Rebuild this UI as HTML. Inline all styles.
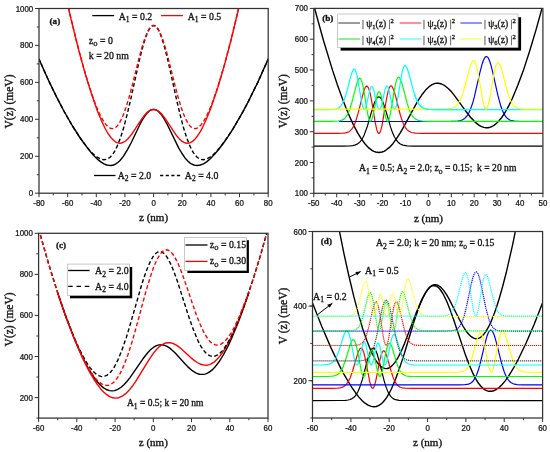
<!DOCTYPE html><html><head><meta charset="utf-8"><style>html,body{margin:0;padding:0;background:#fff}svg{display:block}</style></head><body><svg width="550" height="452" viewBox="0 0 550 452">
<rect width="550" height="452" fill="#fff"/>
<defs>
<clipPath id="ca"><rect x="39.0" y="8.5" width="229.2" height="184.7"/></clipPath>
<clipPath id="cb"><rect x="313.8" y="8.4" width="229.1" height="184.9"/></clipPath>
<clipPath id="cc"><rect x="38.6" y="233.3" width="229.4" height="184.8"/></clipPath>
<clipPath id="cd"><rect x="312.5" y="231.5" width="230.1" height="186.5"/></clipPath>
</defs>
<g clip-path="url(#ca)" fill="none" stroke-width="1.40" stroke-linejoin="round">
<path d="M39.0,59.0 L47.3,77.8 L55.6,95.1 L63.9,111.0 L72.2,125.5 L80.5,138.5 L88.3,149.1 L91.7,153.3 L95.2,157.0 L98.3,159.9 L101.5,162.4 L104.0,163.9 L106.6,165.0 L108.9,165.4 L111.2,165.5 L113.5,165.0 L115.5,164.1 L117.8,162.5 L119.8,160.7 L123.5,156.1 L127.5,149.6 L131.3,142.5 L139.8,124.7 L142.1,120.4 L144.4,116.6 L147.0,113.2 L149.3,111.0 L151.6,109.7 L153.9,109.4 L156.2,110.0 L158.5,111.5 L160.8,113.9 L163.3,117.5 L167.6,125.2 L178.8,148.1 L182.0,153.5 L184.8,157.7 L188.0,161.3 L190.8,163.6 L194.0,165.0 L195.4,165.4 L197.1,165.5 L200.3,165.0 L203.5,163.8 L206.9,161.6 L210.3,158.7 L214.3,154.6 L218.6,149.5 L223.2,143.5 L227.8,136.8 L232.7,129.3 L237.8,120.7 L242.7,112.1 L247.9,102.4 L257.9,82.1 L268.2,59.0" stroke="#000"/>
<path d="M153.6,25.5 L152.5,25.7 L151.3,26.5 L150.2,27.8 L148.7,30.0 L146.2,35.9 L143.6,43.8 L141.3,52.3 L139.0,61.7 L130.7,99.4 L127.2,114.2 L123.8,127.3 L120.4,138.2 L116.9,146.9 L115.2,150.3 L113.5,153.1 L111.8,155.4 L110.1,157.2 L108.3,158.5 L106.3,159.4 L103.7,159.7 L100.9,159.1 L98.0,157.7 L94.9,155.5 L91.4,152.2 L87.7,148.0 L83.7,142.8 L79.1,136.3 L74.2,128.8 L69.4,120.7 L64.5,112.1 L59.3,102.4 L49.3,82.1 L39.0,59.0" stroke="#000" stroke-dasharray="4 2.4" stroke-dashoffset="2"/>
<path d="M153.6,25.5 L154.7,25.7 L155.9,26.5 L157.0,27.8 L158.5,30.0 L161.0,35.9 L163.6,43.8 L165.9,52.3 L168.2,61.7 L176.5,99.4 L180.0,114.2 L183.4,127.3 L186.8,138.2 L190.3,146.9 L192.0,150.3 L193.7,153.1 L195.4,155.4 L197.1,157.2 L198.9,158.5 L200.9,159.4 L203.5,159.7 L206.3,159.1 L209.2,157.7 L212.3,155.5 L215.8,152.2 L219.5,148.0 L223.5,142.8 L228.1,136.3 L233.0,128.8 L237.8,120.7 L242.7,112.1 L247.9,102.4 L257.9,82.1 L268.2,59.0" stroke="#000" stroke-dasharray="4 2.4" stroke-dashoffset="2"/>
<path d="M39.0,-20.0 L62.2,-20.0 L70.8,18.1 L78.8,50.3 L82.8,65.1 L86.8,79.0 L90.9,92.0 L94.6,103.0 L98.0,112.4 L101.5,120.7 L104.9,128.0 L108.0,133.5 L111.2,137.9 L114.1,140.8 L115.5,141.8 L116.9,142.6 L118.4,143.0 L119.8,143.2 L121.5,143.0 L123.5,142.2 L125.5,141.0 L127.5,139.2 L129.8,136.7 L132.1,133.6 L141.3,119.6 L145.0,114.7 L147.3,112.3 L149.3,110.7 L151.3,109.7 L153.3,109.4 L155.3,109.6 L157.3,110.4 L159.3,111.8 L161.6,114.0 L165.6,119.2 L173.1,130.7 L176.2,135.2 L179.4,138.9 L182.2,141.4 L184.0,142.4 L185.7,143.0 L187.4,143.2 L188.8,143.0 L190.3,142.6 L192.0,141.6 L193.4,140.6 L195.1,138.9 L197.7,135.7 L200.3,131.6 L202.9,126.8 L205.7,120.7 L208.6,113.8 L211.5,106.2 L217.8,87.5 L224.4,65.1 L231.2,39.2 L237.8,12.0 L245.0,-20.0 L268.2,-20.0" stroke="#f00"/>
<path d="M153.6,25.5 L152.5,25.7 L151.3,26.4 L150.2,27.6 L149.0,29.2 L146.7,33.7 L144.4,39.7 L142.1,46.9 L139.8,55.2 L132.1,85.9 L129.0,97.6 L125.8,108.0 L122.7,116.5 L120.9,120.2 L119.5,122.8 L118.1,124.9 L116.6,126.6 L115.2,127.7 L113.5,128.5 L112.1,128.6 L110.3,128.2 L108.0,126.8 L105.8,124.4 L103.5,121.2 L100.9,116.5 L98.3,111.1 L95.4,104.1 L89.7,87.8 L83.4,67.0 L76.5,41.4 L69.7,13.2 L62.2,-20.0 L39.0,-20.0" stroke="#f00" stroke-dasharray="4 2.4" stroke-dashoffset="2"/>
<path d="M153.6,25.5 L154.7,25.7 L155.9,26.4 L157.0,27.6 L158.2,29.2 L160.5,33.7 L162.8,39.7 L165.1,46.9 L167.4,55.2 L175.1,85.9 L178.2,97.6 L181.4,108.0 L184.5,116.5 L186.3,120.2 L187.7,122.8 L189.1,124.9 L190.6,126.6 L192.0,127.7 L193.7,128.5 L195.1,128.6 L196.9,128.2 L199.2,126.8 L201.4,124.4 L203.7,121.2 L206.3,116.5 L208.9,111.1 L211.8,104.1 L217.5,87.8 L223.8,67.0 L230.7,41.4 L237.5,13.2 L245.0,-20.0 L268.2,-20.0" stroke="#f00" stroke-dasharray="4 2.4" stroke-dashoffset="2"/>
</g>
<rect x="39.0" y="8.5" width="229.2" height="184.7" fill="none" stroke="#333" stroke-width="1.25"/>
<line x1="39.0" y1="193.2" x2="39.0" y2="197.2" stroke="#333" stroke-width="1"/>
<text transform="translate(39.0,205.9) scale(0.93,1)" text-anchor="middle" style="font-family:'Liberation Sans',Arial,sans-serif;font-size:8.5px;fill:#111;stroke:#111;stroke-width:0.25">-80</text>
<line x1="67.7" y1="193.2" x2="67.7" y2="197.2" stroke="#333" stroke-width="1"/>
<text transform="translate(67.7,205.9) scale(0.93,1)" text-anchor="middle" style="font-family:'Liberation Sans',Arial,sans-serif;font-size:8.5px;fill:#111;stroke:#111;stroke-width:0.25">-60</text>
<line x1="96.3" y1="193.2" x2="96.3" y2="197.2" stroke="#333" stroke-width="1"/>
<text transform="translate(96.3,205.9) scale(0.93,1)" text-anchor="middle" style="font-family:'Liberation Sans',Arial,sans-serif;font-size:8.5px;fill:#111;stroke:#111;stroke-width:0.25">-40</text>
<line x1="124.9" y1="193.2" x2="124.9" y2="197.2" stroke="#333" stroke-width="1"/>
<text transform="translate(124.9,205.9) scale(0.93,1)" text-anchor="middle" style="font-family:'Liberation Sans',Arial,sans-serif;font-size:8.5px;fill:#111;stroke:#111;stroke-width:0.25">-20</text>
<line x1="153.6" y1="193.2" x2="153.6" y2="197.2" stroke="#333" stroke-width="1"/>
<text transform="translate(153.6,205.9) scale(0.93,1)" text-anchor="middle" style="font-family:'Liberation Sans',Arial,sans-serif;font-size:8.5px;fill:#111;stroke:#111;stroke-width:0.25">0</text>
<line x1="182.2" y1="193.2" x2="182.2" y2="197.2" stroke="#333" stroke-width="1"/>
<text transform="translate(182.2,205.9) scale(0.93,1)" text-anchor="middle" style="font-family:'Liberation Sans',Arial,sans-serif;font-size:8.5px;fill:#111;stroke:#111;stroke-width:0.25">20</text>
<line x1="210.9" y1="193.2" x2="210.9" y2="197.2" stroke="#333" stroke-width="1"/>
<text transform="translate(210.9,205.9) scale(0.93,1)" text-anchor="middle" style="font-family:'Liberation Sans',Arial,sans-serif;font-size:8.5px;fill:#111;stroke:#111;stroke-width:0.25">40</text>
<line x1="239.5" y1="193.2" x2="239.5" y2="197.2" stroke="#333" stroke-width="1"/>
<text transform="translate(239.5,205.9) scale(0.93,1)" text-anchor="middle" style="font-family:'Liberation Sans',Arial,sans-serif;font-size:8.5px;fill:#111;stroke:#111;stroke-width:0.25">60</text>
<line x1="268.2" y1="193.2" x2="268.2" y2="197.2" stroke="#333" stroke-width="1"/>
<text transform="translate(268.2,205.9) scale(0.93,1)" text-anchor="middle" style="font-family:'Liberation Sans',Arial,sans-serif;font-size:8.5px;fill:#111;stroke:#111;stroke-width:0.25">80</text>
<line x1="53.3" y1="193.2" x2="53.3" y2="195.4" stroke="#333" stroke-width="1"/>
<line x1="82.0" y1="193.2" x2="82.0" y2="195.4" stroke="#333" stroke-width="1"/>
<line x1="110.6" y1="193.2" x2="110.6" y2="195.4" stroke="#333" stroke-width="1"/>
<line x1="139.3" y1="193.2" x2="139.3" y2="195.4" stroke="#333" stroke-width="1"/>
<line x1="167.9" y1="193.2" x2="167.9" y2="195.4" stroke="#333" stroke-width="1"/>
<line x1="196.6" y1="193.2" x2="196.6" y2="195.4" stroke="#333" stroke-width="1"/>
<line x1="225.2" y1="193.2" x2="225.2" y2="195.4" stroke="#333" stroke-width="1"/>
<line x1="253.9" y1="193.2" x2="253.9" y2="195.4" stroke="#333" stroke-width="1"/>
<line x1="35.0" y1="193.2" x2="39.0" y2="193.2" stroke="#333" stroke-width="1"/>
<text transform="translate(33.2,196.2) scale(0.93,1)" text-anchor="end" style="font-family:'Liberation Sans',Arial,sans-serif;font-size:8.5px;fill:#111;stroke:#111;stroke-width:0.25">0</text>
<line x1="35.0" y1="156.3" x2="39.0" y2="156.3" stroke="#333" stroke-width="1"/>
<text transform="translate(33.2,159.3) scale(0.93,1)" text-anchor="end" style="font-family:'Liberation Sans',Arial,sans-serif;font-size:8.5px;fill:#111;stroke:#111;stroke-width:0.25">200</text>
<line x1="35.0" y1="119.3" x2="39.0" y2="119.3" stroke="#333" stroke-width="1"/>
<text transform="translate(33.2,122.3) scale(0.93,1)" text-anchor="end" style="font-family:'Liberation Sans',Arial,sans-serif;font-size:8.5px;fill:#111;stroke:#111;stroke-width:0.25">400</text>
<line x1="35.0" y1="82.4" x2="39.0" y2="82.4" stroke="#333" stroke-width="1"/>
<text transform="translate(33.2,85.4) scale(0.93,1)" text-anchor="end" style="font-family:'Liberation Sans',Arial,sans-serif;font-size:8.5px;fill:#111;stroke:#111;stroke-width:0.25">600</text>
<line x1="35.0" y1="45.4" x2="39.0" y2="45.4" stroke="#333" stroke-width="1"/>
<text transform="translate(33.2,48.4) scale(0.93,1)" text-anchor="end" style="font-family:'Liberation Sans',Arial,sans-serif;font-size:8.5px;fill:#111;stroke:#111;stroke-width:0.25">800</text>
<line x1="35.0" y1="8.5" x2="39.0" y2="8.5" stroke="#333" stroke-width="1"/>
<text transform="translate(33.2,11.5) scale(0.93,1)" text-anchor="end" style="font-family:'Liberation Sans',Arial,sans-serif;font-size:8.5px;fill:#111;stroke:#111;stroke-width:0.25">1000</text>
<line x1="36.8" y1="174.7" x2="39.0" y2="174.7" stroke="#333" stroke-width="1"/>
<line x1="36.8" y1="137.8" x2="39.0" y2="137.8" stroke="#333" stroke-width="1"/>
<line x1="36.8" y1="100.8" x2="39.0" y2="100.8" stroke="#333" stroke-width="1"/>
<line x1="36.8" y1="63.9" x2="39.0" y2="63.9" stroke="#333" stroke-width="1"/>
<line x1="36.8" y1="27.0" x2="39.0" y2="27.0" stroke="#333" stroke-width="1"/>
<text transform="translate(13.0,101.5) rotate(-90)" text-anchor="middle" style="font-family:'Liberation Serif','Times New Roman',serif;font-size:11.5px;fill:#111;stroke:#111;stroke-width:0.35;white-space:pre">V(z) (meV)</text>
<text x="153.6" y="221.1" text-anchor="middle" style="font-family:'Liberation Serif','Times New Roman',serif;font-size:11px;fill:#111;stroke:#111;stroke-width:0.35">z (nm)</text>
<g clip-path="url(#cc)" fill="none" stroke-width="1.40" stroke-linejoin="round">
<path d="M57.7,292.9 L65.7,316.2 L73.4,336.2 L77.2,345.4 L81.0,353.9 L84.5,361.0 L87.9,367.6 L91.4,373.4 L94.4,378.0 L97.5,382.0 L100.5,385.3 L103.6,387.9 L106.3,389.5 L109.3,390.6 L112.0,390.9 L114.7,390.6 L117.7,389.4 L120.8,387.5 L123.9,384.8 L126.9,381.5 L130.0,377.6 L142.6,359.3 L147.9,352.5 L151.0,349.3 L153.7,347.2 L156.4,345.7 L159.0,344.9 L161.7,344.7 L164.4,345.3 L167.1,346.4 L170.1,348.4 L172.8,350.7 L175.5,353.3 L184.7,363.5 L188.5,367.4 L192.3,370.7 L195.7,372.8 L197.7,373.7 L199.6,374.2 L201.5,374.4 L203.0,374.4 L204.9,374.1 L206.4,373.6 L208.4,372.7 L210.3,371.4 L212.2,369.9 L214.5,367.6 L218.7,362.3 L223.3,355.0 L227.9,346.4 L232.8,335.6 L237.8,323.5 L243.1,309.2 L248.9,292.6" stroke="#000"/>
<path d="M57.7,292.9 L66.1,317.4 L74.2,338.4 L78.4,348.5 L82.2,357.1 L86.0,365.1 L89.8,372.4 L93.7,379.0 L97.1,384.2 L100.5,388.7 L103.6,392.0 L106.7,394.7 L109.7,396.6 L112.8,397.8 L115.8,398.1 L118.9,397.7 L122.3,396.2 L125.4,393.9 L128.8,390.6 L132.3,386.3 L135.7,381.4 L148.3,360.8 L153.7,352.9 L156.7,349.2 L159.4,346.6 L162.1,344.6 L164.8,343.3 L167.4,342.7 L170.1,342.7 L172.8,343.4 L175.9,344.8 L178.5,346.6 L181.2,348.7 L190.4,357.2 L193.8,360.1 L197.3,362.5 L200.7,364.3 L204.2,365.1 L206.1,365.2 L207.6,365.0 L209.5,364.6 L211.0,363.9 L214.5,361.8 L218.3,358.1 L222.1,353.3 L226.3,346.6 L230.5,338.7 L234.7,329.6 L239.3,318.6 L243.9,306.4 L248.9,292.2" stroke="#f00"/>
<path d="M38.6,228.9 L48.2,262.3 L57.7,292.8 L62.3,306.3 L66.9,319.0 L71.1,330.0 L75.3,340.1 L79.1,348.6 L83.0,356.2 L86.4,362.2 L89.8,367.4 L93.3,371.5 L96.3,374.2 L99.4,375.9 L100.9,376.4 L102.4,376.6 L104.7,376.2 L106.7,375.4 L108.6,374.1 L110.5,372.2 L112.4,369.9 L114.3,367.0 L118.1,359.6 L121.9,350.2 L126.2,337.9 L130.4,324.0 L140.7,288.0 L143.7,278.3 L146.8,269.7 L149.9,262.4 L152.9,256.9 L154.4,254.8 L156.0,253.3 L157.5,252.2 L159.0,251.7 L160.6,251.6 L162.1,252.1 L163.6,253.2 L165.2,254.7 L166.7,256.6 L168.2,259.1 L171.3,265.2 L174.3,272.7 L177.4,281.3 L188.1,314.7 L192.3,326.9 L196.9,338.4 L199.2,343.2 L201.1,346.6 L203.4,350.1 L205.7,352.8 L208.0,354.8 L210.3,355.9 L212.6,356.4 L214.9,356.1 L217.1,355.1 L219.8,353.2 L222.1,350.9 L224.8,347.5 L227.1,344.0 L229.8,339.3 L235.1,328.4 L240.9,314.5 L247.4,296.7 L253.9,277.0 L260.7,254.5 L268.0,228.8" stroke="#000" stroke-dasharray="4 2.4"/>
<path d="M38.6,228.9 L48.5,263.6 L53.5,279.8 L58.5,295.2 L63.5,309.8 L68.0,322.4 L72.6,334.3 L77.2,345.4 L81.4,354.7 L85.6,363.1 L89.5,369.8 L93.3,375.5 L96.7,379.7 L100.2,382.9 L102.1,384.1 L103.6,384.8 L105.1,385.3 L106.7,385.4 L108.9,385.2 L111.2,384.2 L113.5,382.5 L115.4,380.5 L117.7,377.4 L119.7,374.3 L121.9,369.8 L124.2,364.6 L128.1,354.3 L132.3,341.1 L136.1,327.7 L146.0,291.1 L151.4,273.6 L154.4,265.3 L157.1,259.3 L159.8,254.6 L162.1,251.9 L163.6,250.7 L165.2,250.0 L166.7,249.8 L168.2,250.2 L169.7,251.0 L171.3,252.4 L172.8,254.2 L174.3,256.4 L177.8,263.0 L181.2,271.2 L185.0,281.8 L196.1,314.2 L199.6,323.1 L203.0,330.7 L205.3,334.9 L207.2,337.9 L209.1,340.4 L211.0,342.4 L212.9,343.8 L214.9,344.7 L216.8,345.1 L218.7,345.0 L221.0,344.1 L223.6,342.3 L225.9,340.1 L228.6,336.7 L231.3,332.6 L234.0,327.8 L236.6,322.4 L239.7,315.6 L246.2,299.0 L253.1,279.0 L260.4,255.6 L268.0,228.8" stroke="#f00" stroke-dasharray="4 2.4"/>
</g>
<rect x="38.6" y="233.3" width="229.4" height="184.8" fill="none" stroke="#333" stroke-width="1.25"/>
<line x1="38.6" y1="418.1" x2="38.6" y2="422.1" stroke="#333" stroke-width="1"/>
<text transform="translate(38.6,430.8) scale(0.93,1)" text-anchor="middle" style="font-family:'Liberation Sans',Arial,sans-serif;font-size:8.5px;fill:#111;stroke:#111;stroke-width:0.25">-60</text>
<line x1="76.8" y1="418.1" x2="76.8" y2="422.1" stroke="#333" stroke-width="1"/>
<text transform="translate(76.8,430.8) scale(0.93,1)" text-anchor="middle" style="font-family:'Liberation Sans',Arial,sans-serif;font-size:8.5px;fill:#111;stroke:#111;stroke-width:0.25">-40</text>
<line x1="115.1" y1="418.1" x2="115.1" y2="422.1" stroke="#333" stroke-width="1"/>
<text transform="translate(115.1,430.8) scale(0.93,1)" text-anchor="middle" style="font-family:'Liberation Sans',Arial,sans-serif;font-size:8.5px;fill:#111;stroke:#111;stroke-width:0.25">-20</text>
<line x1="153.3" y1="418.1" x2="153.3" y2="422.1" stroke="#333" stroke-width="1"/>
<text transform="translate(153.3,430.8) scale(0.93,1)" text-anchor="middle" style="font-family:'Liberation Sans',Arial,sans-serif;font-size:8.5px;fill:#111;stroke:#111;stroke-width:0.25">0</text>
<line x1="191.5" y1="418.1" x2="191.5" y2="422.1" stroke="#333" stroke-width="1"/>
<text transform="translate(191.5,430.8) scale(0.93,1)" text-anchor="middle" style="font-family:'Liberation Sans',Arial,sans-serif;font-size:8.5px;fill:#111;stroke:#111;stroke-width:0.25">20</text>
<line x1="229.8" y1="418.1" x2="229.8" y2="422.1" stroke="#333" stroke-width="1"/>
<text transform="translate(229.8,430.8) scale(0.93,1)" text-anchor="middle" style="font-family:'Liberation Sans',Arial,sans-serif;font-size:8.5px;fill:#111;stroke:#111;stroke-width:0.25">40</text>
<line x1="268.0" y1="418.1" x2="268.0" y2="422.1" stroke="#333" stroke-width="1"/>
<text transform="translate(268.0,430.8) scale(0.93,1)" text-anchor="middle" style="font-family:'Liberation Sans',Arial,sans-serif;font-size:8.5px;fill:#111;stroke:#111;stroke-width:0.25">60</text>
<line x1="57.7" y1="418.1" x2="57.7" y2="420.3" stroke="#333" stroke-width="1"/>
<line x1="96.0" y1="418.1" x2="96.0" y2="420.3" stroke="#333" stroke-width="1"/>
<line x1="134.2" y1="418.1" x2="134.2" y2="420.3" stroke="#333" stroke-width="1"/>
<line x1="172.4" y1="418.1" x2="172.4" y2="420.3" stroke="#333" stroke-width="1"/>
<line x1="210.7" y1="418.1" x2="210.7" y2="420.3" stroke="#333" stroke-width="1"/>
<line x1="248.9" y1="418.1" x2="248.9" y2="420.3" stroke="#333" stroke-width="1"/>
<line x1="34.6" y1="397.6" x2="38.6" y2="397.6" stroke="#333" stroke-width="1"/>
<text transform="translate(32.8,400.6) scale(0.93,1)" text-anchor="end" style="font-family:'Liberation Sans',Arial,sans-serif;font-size:8.5px;fill:#111;stroke:#111;stroke-width:0.25">200</text>
<line x1="34.6" y1="356.5" x2="38.6" y2="356.5" stroke="#333" stroke-width="1"/>
<text transform="translate(32.8,359.5) scale(0.93,1)" text-anchor="end" style="font-family:'Liberation Sans',Arial,sans-serif;font-size:8.5px;fill:#111;stroke:#111;stroke-width:0.25">400</text>
<line x1="34.6" y1="315.4" x2="38.6" y2="315.4" stroke="#333" stroke-width="1"/>
<text transform="translate(32.8,318.4) scale(0.93,1)" text-anchor="end" style="font-family:'Liberation Sans',Arial,sans-serif;font-size:8.5px;fill:#111;stroke:#111;stroke-width:0.25">600</text>
<line x1="34.6" y1="274.4" x2="38.6" y2="274.4" stroke="#333" stroke-width="1"/>
<text transform="translate(32.8,277.4) scale(0.93,1)" text-anchor="end" style="font-family:'Liberation Sans',Arial,sans-serif;font-size:8.5px;fill:#111;stroke:#111;stroke-width:0.25">800</text>
<line x1="34.6" y1="233.3" x2="38.6" y2="233.3" stroke="#333" stroke-width="1"/>
<text transform="translate(32.8,236.3) scale(0.93,1)" text-anchor="end" style="font-family:'Liberation Sans',Arial,sans-serif;font-size:8.5px;fill:#111;stroke:#111;stroke-width:0.25">1000</text>
<line x1="36.4" y1="418.1" x2="38.6" y2="418.1" stroke="#333" stroke-width="1"/>
<line x1="36.4" y1="377.0" x2="38.6" y2="377.0" stroke="#333" stroke-width="1"/>
<line x1="36.4" y1="336.0" x2="38.6" y2="336.0" stroke="#333" stroke-width="1"/>
<line x1="36.4" y1="294.9" x2="38.6" y2="294.9" stroke="#333" stroke-width="1"/>
<line x1="36.4" y1="253.8" x2="38.6" y2="253.8" stroke="#333" stroke-width="1"/>
<text transform="translate(13.0,319.4) rotate(-90)" text-anchor="middle" style="font-family:'Liberation Serif','Times New Roman',serif;font-size:11.5px;fill:#111;stroke:#111;stroke-width:0.35;white-space:pre">V(z) (meV)</text>
<text x="153.3" y="446.0" text-anchor="middle" style="font-family:'Liberation Serif','Times New Roman',serif;font-size:11px;fill:#111;stroke:#111;stroke-width:0.35">z (nm)</text>
<g clip-path="url(#cb)" fill="none" stroke-width="1.2" stroke-linejoin="round">
<path d="M313.8,5.4 L323.4,40.3 L332.6,70.4 L337.2,84.2 L341.8,97.0 L345.9,107.7 L350.0,117.4 L354.1,126.2 L357.8,133.1 L361.5,139.1 L365.1,144.0 L368.8,147.9 L372.0,150.4 L373.8,151.4 L375.7,152.0 L378.9,152.5 L382.1,152.0 L383.9,151.3 L385.7,150.3 L389.4,147.4 L393.1,143.4 L396.7,138.4 L400.4,132.6 L404.5,125.4 L415.5,105.1 L418.7,99.7 L421.9,94.8 L425.6,90.1 L428.8,86.9 L432.0,84.7 L435.2,83.4 L436.6,83.2 L438.4,83.2 L441.6,84.0 L444.8,85.7 L448.5,88.7 L451.7,92.1 L454.9,96.1 L465.9,111.3 L470.5,117.2 L475.1,122.1 L479.2,125.4 L481.5,126.6 L483.8,127.4 L486.1,127.8 L487.9,127.7 L490.2,127.2 L492.0,126.5 L494.3,125.1 L496.6,123.2 L498.9,120.9 L501.7,117.5 L504.0,114.1 L506.7,109.6 L509.5,104.4 L512.2,98.7 L517.7,85.6 L523.7,69.4 L529.6,51.3 L536.0,29.9 L542.9,5.0" stroke="#000" stroke-width="1.40"/>
<path d="M313.8,146.1 L343.2,146.1 L349.9,145.9 L352.6,145.6 L354.8,145.1 L356.6,144.4 L358.4,143.3 L360.0,141.9 L361.5,140.0 L362.8,137.7 L364.2,134.9 L367.3,126.5 L372.4,108.9 L374.5,102.8 L375.7,100.1 L376.8,98.2 L377.8,97.1 L378.9,96.8 L379.9,97.2 L380.9,98.3 L382.0,100.0 L383.1,102.7 L385.1,108.4 L390.7,127.4 L392.5,132.6 L394.2,136.5 L396.2,139.8 L398.1,142.2 L400.3,144.0 L402.9,145.1 L407.0,145.8 L413.8,146.1 L542.9,146.1" stroke="#000"/>
<path d="M313.8,133.4 L337.1,133.4 L342.9,133.2 L345.3,132.9 L347.2,132.4 L348.9,131.7 L350.3,130.6 L351.7,129.1 L353.1,127.1 L354.4,124.6 L355.6,121.5 L358.1,113.4 L362.3,96.7 L363.7,91.4 L365.3,87.4 L366.1,86.4 L366.8,86.1 L367.6,86.6 L368.4,87.9 L369.2,90.1 L370.2,93.5 L371.8,101.8 L375.1,121.9 L376.6,128.9 L377.3,131.1 L377.9,132.7 L378.6,133.4 L379.2,133.3 L379.9,132.5 L380.6,130.9 L382.0,125.6 L386.3,100.0 L387.9,92.2 L388.7,89.3 L389.5,87.3 L390.2,86.3 L391.0,85.8 L391.7,86.1 L392.4,87.0 L394.0,90.7 L395.5,95.9 L400.2,114.5 L401.8,119.6 L403.4,123.8 L405.1,127.1 L406.9,129.6 L409.0,131.3 L411.5,132.5 L415.4,133.2 L421.9,133.4 L542.9,133.4" stroke="#f00"/>
<path d="M339.0,121.5 L450.8,121.4 L457.8,121.1 L460.2,120.6 L462.1,120.0 L464.7,118.4 L467.0,116.0 L468.9,112.8 L470.8,108.4 L472.6,103.3 L474.4,96.7 L480.0,72.1 L482.1,64.2 L483.2,60.8 L484.4,58.3 L485.4,56.9 L486.4,56.5 L487.5,57.0 L488.5,58.4 L489.6,61.0 L490.8,64.6 L492.8,72.7 L497.9,95.4 L500.9,106.3 L502.1,109.8 L503.5,112.9 L504.9,115.4 L506.2,117.2 L507.8,118.8 L509.7,120.0 L511.7,120.7 L514.3,121.2 L520.3,121.5 L542.9,121.5" stroke="#00f"/>
<path d="M313.8,121.3 L332.5,121.3 L337.9,121.0 L340.0,120.7 L341.9,120.2 L343.4,119.4 L344.7,118.4 L346.0,117.0 L347.2,115.1 L349.5,110.0 L351.8,102.7 L357.0,82.9 L358.5,79.3 L359.2,78.4 L359.7,78.2 L360.4,78.6 L361.1,79.7 L361.8,81.4 L362.6,84.4 L364.0,91.4 L367.6,113.6 L368.7,118.0 L369.7,120.7 L370.3,121.2 L370.8,121.1 L371.4,120.4 L372.1,118.7 L373.4,113.6 L376.8,96.4 L377.9,92.9 L378.5,92.1 L379.1,91.8 L379.6,92.0 L380.1,92.9 L381.3,96.4 L384.7,113.5 L385.9,118.2 L386.9,120.7 L387.5,121.2 L387.9,121.2 L388.5,120.5 L389.1,119.3 L390.3,114.4 L394.2,90.9 L395.7,83.3 L396.5,80.4 L397.2,78.6 L397.9,77.6 L398.6,77.2 L399.1,77.4 L399.8,78.2 L401.3,81.6 L402.7,86.2 L407.2,103.4 L408.8,108.4 L410.3,112.1 L412.0,115.3 L413.8,117.6 L415.9,119.3 L418.3,120.4 L422.2,121.0 L428.9,121.3 L542.9,121.3" stroke="#0f0"/>
<path d="M313.8,109.6 L328.8,109.6 L333.7,109.4 L335.8,109.0 L337.4,108.5 L338.9,107.7 L340.1,106.6 L341.3,105.3 L342.4,103.5 L344.5,99.0 L346.7,92.1 L351.5,73.7 L352.9,70.3 L353.5,69.4 L354.1,69.1 L354.8,69.4 L355.5,70.5 L356.9,74.8 L358.2,81.8 L361.7,102.6 L362.8,107.3 L363.9,109.4 L364.3,109.6 L364.8,109.4 L365.8,107.4 L366.8,103.7 L369.8,90.2 L370.8,87.4 L371.3,86.7 L371.8,86.5 L372.2,86.7 L372.7,87.3 L373.7,90.0 L376.7,103.3 L377.8,107.5 L378.9,109.4 L379.3,109.6 L379.8,109.4 L380.6,108.1 L381.5,105.2 L385.2,89.1 L386.1,86.8 L386.9,86.1 L387.3,86.3 L387.8,86.9 L388.8,89.6 L391.9,103.5 L393.0,107.3 L393.9,109.2 L394.3,109.6 L394.7,109.6 L395.2,109.0 L395.8,107.7 L397.1,102.7 L400.9,79.2 L402.3,71.5 L403.7,67.1 L404.4,66.0 L405.1,65.6 L405.7,65.7 L406.4,66.5 L407.8,70.0 L413.6,91.4 L415.2,96.3 L416.7,100.0 L418.4,103.3 L420.2,105.7 L422.3,107.4 L424.8,108.6 L428.9,109.3 L436.0,109.6 L542.9,109.6" stroke="#0ff"/>
<path d="M313.8,109.2 L439.8,109.2 L447.4,108.9 L451.7,108.2 L454.4,107.0 L456.6,105.2 L458.7,102.5 L460.5,99.1 L462.3,94.9 L464.0,89.5 L468.9,70.8 L470.4,65.8 L472.0,62.0 L472.8,61.0 L473.5,60.6 L474.3,61.0 L475.1,62.2 L475.9,64.1 L476.7,66.9 L478.4,75.2 L482.9,101.2 L484.3,106.6 L484.9,108.2 L485.6,109.0 L486.3,109.1 L487.0,108.3 L487.7,106.8 L488.4,104.5 L489.9,97.6 L493.2,77.9 L494.8,69.8 L495.7,66.4 L496.5,64.3 L497.3,63.0 L498.1,62.6 L498.8,62.9 L499.6,64.0 L501.2,68.0 L502.7,73.3 L506.7,89.3 L509.1,97.1 L511.4,102.3 L512.5,104.2 L513.8,105.7 L515.2,106.9 L516.8,107.9 L518.6,108.5 L520.8,108.9 L526.1,109.2 L542.9,109.2" stroke="#ff0"/>
<path d="M414.6,94.7 L416.8,100.3 L417.9,102.5 L419.2,104.5 L420.4,105.9 L421.8,107.1 L423.3,108.0 L425.0,108.6 L428.2,109.3 L433.0,109.6 L465.0,109.6" stroke="#0ff"/>
</g>
<rect x="313.8" y="8.4" width="229.1" height="184.9" fill="none" stroke="#333" stroke-width="1.25"/>
<line x1="313.8" y1="193.3" x2="313.8" y2="197.3" stroke="#333" stroke-width="1"/>
<text transform="translate(313.8,206.0) scale(0.93,1)" text-anchor="middle" style="font-family:'Liberation Sans',Arial,sans-serif;font-size:8.5px;fill:#111;stroke:#111;stroke-width:0.25">-50</text>
<line x1="336.7" y1="193.3" x2="336.7" y2="197.3" stroke="#333" stroke-width="1"/>
<text transform="translate(336.7,206.0) scale(0.93,1)" text-anchor="middle" style="font-family:'Liberation Sans',Arial,sans-serif;font-size:8.5px;fill:#111;stroke:#111;stroke-width:0.25">-40</text>
<line x1="359.6" y1="193.3" x2="359.6" y2="197.3" stroke="#333" stroke-width="1"/>
<text transform="translate(359.6,206.0) scale(0.93,1)" text-anchor="middle" style="font-family:'Liberation Sans',Arial,sans-serif;font-size:8.5px;fill:#111;stroke:#111;stroke-width:0.25">-30</text>
<line x1="382.5" y1="193.3" x2="382.5" y2="197.3" stroke="#333" stroke-width="1"/>
<text transform="translate(382.5,206.0) scale(0.93,1)" text-anchor="middle" style="font-family:'Liberation Sans',Arial,sans-serif;font-size:8.5px;fill:#111;stroke:#111;stroke-width:0.25">-20</text>
<line x1="405.4" y1="193.3" x2="405.4" y2="197.3" stroke="#333" stroke-width="1"/>
<text transform="translate(405.4,206.0) scale(0.93,1)" text-anchor="middle" style="font-family:'Liberation Sans',Arial,sans-serif;font-size:8.5px;fill:#111;stroke:#111;stroke-width:0.25">-10</text>
<line x1="428.4" y1="193.3" x2="428.4" y2="197.3" stroke="#333" stroke-width="1"/>
<text transform="translate(428.4,206.0) scale(0.93,1)" text-anchor="middle" style="font-family:'Liberation Sans',Arial,sans-serif;font-size:8.5px;fill:#111;stroke:#111;stroke-width:0.25">0</text>
<line x1="451.3" y1="193.3" x2="451.3" y2="197.3" stroke="#333" stroke-width="1"/>
<text transform="translate(451.3,206.0) scale(0.93,1)" text-anchor="middle" style="font-family:'Liberation Sans',Arial,sans-serif;font-size:8.5px;fill:#111;stroke:#111;stroke-width:0.25">10</text>
<line x1="474.2" y1="193.3" x2="474.2" y2="197.3" stroke="#333" stroke-width="1"/>
<text transform="translate(474.2,206.0) scale(0.93,1)" text-anchor="middle" style="font-family:'Liberation Sans',Arial,sans-serif;font-size:8.5px;fill:#111;stroke:#111;stroke-width:0.25">20</text>
<line x1="497.1" y1="193.3" x2="497.1" y2="197.3" stroke="#333" stroke-width="1"/>
<text transform="translate(497.1,206.0) scale(0.93,1)" text-anchor="middle" style="font-family:'Liberation Sans',Arial,sans-serif;font-size:8.5px;fill:#111;stroke:#111;stroke-width:0.25">30</text>
<line x1="520.0" y1="193.3" x2="520.0" y2="197.3" stroke="#333" stroke-width="1"/>
<text transform="translate(520.0,206.0) scale(0.93,1)" text-anchor="middle" style="font-family:'Liberation Sans',Arial,sans-serif;font-size:8.5px;fill:#111;stroke:#111;stroke-width:0.25">40</text>
<line x1="542.9" y1="193.3" x2="542.9" y2="197.3" stroke="#333" stroke-width="1"/>
<text transform="translate(542.9,206.0) scale(0.93,1)" text-anchor="middle" style="font-family:'Liberation Sans',Arial,sans-serif;font-size:8.5px;fill:#111;stroke:#111;stroke-width:0.25">50</text>
<line x1="325.3" y1="193.3" x2="325.3" y2="195.5" stroke="#333" stroke-width="1"/>
<line x1="348.2" y1="193.3" x2="348.2" y2="195.5" stroke="#333" stroke-width="1"/>
<line x1="371.1" y1="193.3" x2="371.1" y2="195.5" stroke="#333" stroke-width="1"/>
<line x1="394.0" y1="193.3" x2="394.0" y2="195.5" stroke="#333" stroke-width="1"/>
<line x1="416.9" y1="193.3" x2="416.9" y2="195.5" stroke="#333" stroke-width="1"/>
<line x1="439.8" y1="193.3" x2="439.8" y2="195.5" stroke="#333" stroke-width="1"/>
<line x1="462.7" y1="193.3" x2="462.7" y2="195.5" stroke="#333" stroke-width="1"/>
<line x1="485.6" y1="193.3" x2="485.6" y2="195.5" stroke="#333" stroke-width="1"/>
<line x1="508.5" y1="193.3" x2="508.5" y2="195.5" stroke="#333" stroke-width="1"/>
<line x1="531.4" y1="193.3" x2="531.4" y2="195.5" stroke="#333" stroke-width="1"/>
<line x1="309.8" y1="193.3" x2="313.8" y2="193.3" stroke="#333" stroke-width="1"/>
<text transform="translate(308.0,196.3) scale(0.93,1)" text-anchor="end" style="font-family:'Liberation Sans',Arial,sans-serif;font-size:8.5px;fill:#111;stroke:#111;stroke-width:0.25">100</text>
<line x1="309.8" y1="162.5" x2="313.8" y2="162.5" stroke="#333" stroke-width="1"/>
<text transform="translate(308.0,165.5) scale(0.93,1)" text-anchor="end" style="font-family:'Liberation Sans',Arial,sans-serif;font-size:8.5px;fill:#111;stroke:#111;stroke-width:0.25">200</text>
<line x1="309.8" y1="131.7" x2="313.8" y2="131.7" stroke="#333" stroke-width="1"/>
<text transform="translate(308.0,134.7) scale(0.93,1)" text-anchor="end" style="font-family:'Liberation Sans',Arial,sans-serif;font-size:8.5px;fill:#111;stroke:#111;stroke-width:0.25">300</text>
<line x1="309.8" y1="100.9" x2="313.8" y2="100.9" stroke="#333" stroke-width="1"/>
<text transform="translate(308.0,103.9) scale(0.93,1)" text-anchor="end" style="font-family:'Liberation Sans',Arial,sans-serif;font-size:8.5px;fill:#111;stroke:#111;stroke-width:0.25">400</text>
<line x1="309.8" y1="70.0" x2="313.8" y2="70.0" stroke="#333" stroke-width="1"/>
<text transform="translate(308.0,73.0) scale(0.93,1)" text-anchor="end" style="font-family:'Liberation Sans',Arial,sans-serif;font-size:8.5px;fill:#111;stroke:#111;stroke-width:0.25">500</text>
<line x1="309.8" y1="39.2" x2="313.8" y2="39.2" stroke="#333" stroke-width="1"/>
<text transform="translate(308.0,42.2) scale(0.93,1)" text-anchor="end" style="font-family:'Liberation Sans',Arial,sans-serif;font-size:8.5px;fill:#111;stroke:#111;stroke-width:0.25">600</text>
<line x1="309.8" y1="8.4" x2="313.8" y2="8.4" stroke="#333" stroke-width="1"/>
<text transform="translate(308.0,11.4) scale(0.93,1)" text-anchor="end" style="font-family:'Liberation Sans',Arial,sans-serif;font-size:8.5px;fill:#111;stroke:#111;stroke-width:0.25">700</text>
<line x1="311.6" y1="177.9" x2="313.8" y2="177.9" stroke="#333" stroke-width="1"/>
<line x1="311.6" y1="147.1" x2="313.8" y2="147.1" stroke="#333" stroke-width="1"/>
<line x1="311.6" y1="116.3" x2="313.8" y2="116.3" stroke="#333" stroke-width="1"/>
<line x1="311.6" y1="85.4" x2="313.8" y2="85.4" stroke="#333" stroke-width="1"/>
<line x1="311.6" y1="54.6" x2="313.8" y2="54.6" stroke="#333" stroke-width="1"/>
<line x1="311.6" y1="23.8" x2="313.8" y2="23.8" stroke="#333" stroke-width="1"/>
<text transform="translate(287.2,101.2) rotate(-90)" text-anchor="middle" style="font-family:'Liberation Serif','Times New Roman',serif;font-size:11.5px;fill:#111;stroke:#111;stroke-width:0.35;white-space:pre">V(z) (meV)</text>
<text x="428.4" y="221.9" text-anchor="middle" style="font-family:'Liberation Serif','Times New Roman',serif;font-size:11px;fill:#111;stroke:#111;stroke-width:0.35">z (nm)</text>
<g clip-path="url(#cd)" fill="none" stroke-width="1.2" stroke-linejoin="round">
<path d="M312.5,74.3 L317.9,109.0 L323.2,142.0 L328.6,173.4 L333.6,201.0 L339.0,229.0 L343.9,253.4 L348.9,276.0 L353.9,296.9 L358.5,314.4 L362.7,328.7 L367.0,341.1 L371.2,351.5 L375.0,359.0 L376.9,362.0 L378.8,364.5 L380.8,366.4 L382.7,367.7 L384.6,368.4 L386.1,368.6 L387.3,368.5 L388.8,368.0 L390.4,367.2 L391.9,365.9 L395.0,362.4 L398.0,357.6 L401.1,351.5 L404.5,343.6 L416.8,311.2 L421.8,299.6 L424.9,293.8 L427.6,289.7 L430.2,286.8 L431.8,285.7 L432.9,285.1 L434.1,284.8 L435.6,284.7 L436.8,284.9 L438.3,285.5 L441.0,287.4 L444.0,290.9 L446.7,294.9 L449.4,299.6 L459.4,319.5 L463.2,326.5 L465.5,330.2 L467.4,332.8 L469.4,335.0 L471.3,336.7 L473.6,338.1 L475.5,338.7 L477.8,338.6 L479.7,337.8 L481.6,336.5 L483.9,334.2 L485.8,331.6 L488.1,327.7 L490.8,322.2 L493.9,314.6 L496.6,307.0 L499.6,297.2 L502.7,286.3 L506.2,272.8 L512.7,244.3 L520.0,208.4 L527.3,168.7 L534.9,123.2 L542.6,74.2" stroke="#000" stroke-width="1.40"/>
<path d="M312.5,302.9 L321.7,326.3 L330.9,347.6 L339.7,366.1 L343.9,374.1 L348.2,381.5 L352.0,387.7 L355.5,392.7 L358.9,397.1 L362.0,400.5 L365.0,403.2 L368.1,405.2 L371.2,406.4 L373.9,406.8 L376.2,406.5 L378.5,405.6 L380.8,404.2 L382.7,402.5 L385.0,399.8 L386.9,397.1 L389.2,393.2 L391.5,388.7 L395.7,378.8 L399.9,367.1 L404.2,354.0 L414.1,321.3 L419.5,305.8 L422.6,298.4 L425.6,292.6 L428.3,288.8 L429.9,287.3 L431.0,286.4 L432.5,285.7 L434.1,285.5 L435.6,285.8 L437.1,286.6 L438.7,287.8 L440.2,289.5 L443.3,294.2 L446.7,301.2 L450.2,309.9 L454.0,320.7 L465.5,355.1 L469.4,365.2 L472.8,373.1 L475.1,377.6 L477.0,381.0 L478.9,383.8 L480.9,386.2 L482.8,388.1 L484.7,389.6 L486.6,390.6 L488.9,391.3 L491.2,391.3 L493.9,390.7 L496.6,389.3 L499.3,387.3 L501.9,384.7 L505.0,381.1 L508.1,376.8 L511.5,371.4 L515.0,365.5 L518.4,359.0 L526.1,343.0 L534.2,324.3 L542.6,302.8" stroke="#000" stroke-width="1.40"/>
<path d="M312.5,400.6 L339.0,400.5 L345.4,400.4 L348.1,400.0 L350.2,399.5 L352.1,398.6 L353.7,397.5 L355.3,395.9 L356.7,393.8 L358.1,391.2 L359.5,388.1 L362.4,379.4 L367.3,360.5 L369.3,354.2 L370.3,351.4 L371.4,349.4 L372.3,348.3 L373.3,348.0 L374.2,348.4 L375.2,349.5 L376.3,351.7 L377.3,354.5 L379.1,360.8 L384.3,381.3 L385.9,386.6 L387.6,390.9 L389.3,394.4 L391.1,396.9 L393.1,398.6 L395.5,399.7 L399.1,400.4 L405.0,400.5 L542.6,400.6" stroke="#000"/>
<path d="M312.5,388.3 L332.2,388.3 L337.8,388.1 L340.1,387.8 L342.0,387.3 L343.7,386.6 L345.1,385.6 L346.4,384.2 L347.7,382.6 L350.1,377.9 L352.6,371.0 L358.0,352.6 L359.6,349.2 L360.3,348.3 L361.0,348.1 L361.8,348.4 L362.5,349.2 L363.2,350.9 L364.0,353.3 L365.6,360.2 L369.8,382.1 L371.2,386.5 L371.8,387.8 L372.5,388.3 L373.2,388.1 L373.9,387.2 L375.3,382.9 L376.5,377.3 L379.5,361.7 L381.1,355.3 L382.4,351.9 L383.1,351.1 L383.7,350.8 L384.3,351.0 L385.0,351.8 L386.4,354.9 L391.9,373.8 L393.3,377.9 L394.7,381.0 L396.2,383.7 L397.8,385.6 L399.7,387.0 L402.0,387.8 L405.2,388.2 L410.8,388.3 L542.6,388.3" stroke="#f00"/>
<path d="M312.5,384.9 L458.9,384.9 L464.9,384.7 L468.5,384.1 L470.9,383.0 L473.0,381.2 L474.9,378.4 L476.6,374.8 L478.3,370.3 L479.9,364.6 L485.0,343.4 L486.8,336.8 L487.9,333.8 L488.8,331.8 L489.8,330.5 L490.7,330.1 L491.7,330.5 L492.6,331.7 L493.7,333.9 L494.8,336.8 L496.6,343.3 L501.4,362.7 L504.2,371.7 L506.6,377.4 L508.0,379.5 L509.3,381.2 L510.9,382.5 L512.6,383.5 L514.6,384.2 L517.0,384.6 L522.8,384.9 L542.6,384.9" stroke="#00f"/>
<path d="M312.5,376.5 L327.0,376.5 L332.1,376.2 L334.1,375.9 L335.8,375.3 L337.3,374.6 L338.7,373.5 L341.0,370.7 L343.1,366.7 L345.4,360.4 L350.5,343.7 L351.9,340.6 L352.6,339.8 L353.2,339.6 L353.9,339.8 L354.6,340.7 L355.9,344.3 L357.4,350.4 L361.3,371.0 L362.5,375.1 L363.1,376.1 L363.7,376.5 L364.2,376.3 L364.7,375.7 L365.6,373.3 L366.7,369.1 L369.8,354.2 L370.9,351.1 L371.4,350.4 L371.8,350.2 L372.3,350.4 L372.8,351.0 L373.9,354.0 L377.1,369.6 L378.3,374.0 L378.8,375.4 L379.4,376.3 L379.9,376.5 L380.5,376.1 L381.4,374.1 L382.4,370.5 L385.7,353.4 L386.9,348.0 L388.2,344.3 L388.8,343.5 L389.5,343.2 L390.1,343.5 L390.6,344.1 L391.9,346.8 L396.9,363.4 L398.2,367.1 L399.5,369.9 L400.9,372.2 L402.5,374.1 L404.3,375.3 L406.5,376.0 L409.6,376.4 L415.1,376.5 L542.6,376.5" stroke="#0f0"/>
<path d="M312.5,372.3 L453.0,372.3 L458.7,372.2 L462.0,371.7 L464.2,370.9 L466.1,369.6 L467.8,367.5 L469.4,364.8 L470.8,361.3 L472.2,357.0 L477.6,337.6 L479.0,334.3 L479.7,333.5 L480.3,333.3 L481.0,333.5 L481.6,334.4 L483.0,338.0 L484.4,344.3 L487.4,360.7 L488.6,366.7 L490.0,370.9 L490.6,372.0 L491.3,372.3 L492.0,371.8 L492.6,370.5 L494.0,365.9 L498.2,343.0 L499.7,336.2 L501.2,332.2 L501.9,331.2 L502.6,330.9 L503.3,331.2 L504.1,332.1 L505.6,335.7 L510.9,354.4 L513.2,361.3 L515.3,365.7 L516.4,367.5 L517.6,368.9 L518.9,370.0 L520.5,370.9 L522.2,371.6 L524.2,371.9 L529.2,372.2 L542.6,372.3" stroke="#ff0"/>
<path d="M312.5,365.0 L322.9,364.9 L327.4,364.6 L329.2,364.2 L330.7,363.6 L332.1,362.8 L333.3,361.7 L335.3,359.1 L337.2,355.4 L339.3,349.7 L344.1,334.5 L345.6,331.6 L346.2,330.8 L346.8,330.7 L347.5,331.0 L348.1,331.7 L349.4,335.1 L350.9,341.2 L354.5,359.9 L355.6,363.6 L356.2,364.6 L356.7,365.0 L357.1,364.9 L357.6,364.4 L358.5,362.2 L359.5,358.6 L362.4,345.5 L363.3,342.8 L363.8,342.2 L364.2,342.0 L364.6,342.2 L365.0,342.8 L365.9,345.1 L369.3,360.8 L370.0,363.4 L370.8,364.8 L371.2,365.0 L371.7,364.7 L372.6,362.7 L373.6,359.0 L376.3,346.4 L377.1,343.9 L377.6,343.2 L378.0,343.0 L378.4,343.1 L378.8,343.7 L379.8,346.4 L382.6,359.2 L383.5,362.8 L384.5,364.7 L385.0,365.0 L385.4,364.8 L386.2,363.4 L387.2,360.1 L390.4,344.0 L391.5,339.0 L392.7,335.7 L393.3,334.9 L393.9,334.6 L394.4,334.8 L395.0,335.3 L396.2,337.8 L401.0,353.0 L402.2,356.3 L403.5,358.9 L404.9,361.2 L406.5,362.8 L408.2,363.8 L410.3,364.5 L413.4,364.9 L418.8,365.0 L542.6,365.0" stroke="#0ff"/>
<path d="M312.5,360.8 L360.1,360.8 L362.7,360.5 L364.8,360.1 L366.5,359.5 L367.9,358.5 L369.5,356.8 L371.0,354.5 L372.3,351.5 L373.7,347.7 L376.4,337.2 L380.8,315.1 L382.5,307.4 L383.4,304.2 L384.4,301.8 L385.3,300.5 L386.1,300.0 L387.0,300.5 L387.9,301.9 L388.7,304.1 L389.7,307.3 L391.3,314.4 L396.0,337.9 L397.5,344.2 L399.1,349.3 L400.7,353.4 L402.4,356.4 L404.3,358.5 L406.6,359.8 L410.1,360.6 L416.0,360.8 L542.6,360.8" stroke="#444" stroke-dasharray="1.2 0.8"/>
<path d="M312.5,345.5 L354.1,345.5 L358.3,345.0 L359.9,344.5 L361.1,343.8 L362.5,342.6 L363.9,340.8 L365.1,338.5 L366.3,335.6 L368.6,327.8 L373.5,306.7 L374.8,303.0 L375.5,302.1 L376.1,301.8 L376.7,302.2 L377.4,303.4 L378.8,308.7 L380.2,316.3 L383.0,334.8 L384.2,341.3 L385.4,344.8 L385.9,345.5 L386.4,345.5 L387.0,344.7 L387.6,343.2 L388.7,338.3 L392.4,314.6 L393.7,307.4 L395.0,302.9 L395.6,301.9 L396.3,301.5 L396.9,301.8 L397.4,302.6 L398.8,306.1 L404.1,328.4 L405.4,333.1 L406.7,336.9 L408.3,340.0 L409.9,342.3 L411.7,343.9 L413.8,344.8 L417.1,345.4 L422.9,345.5 L542.6,345.5" stroke="#f00" stroke-dasharray="1.2 0.8"/>
<path d="M312.5,331.1 L444.9,331.1 L451.2,330.8 L453.2,330.5 L455.0,330.1 L457.4,328.8 L459.4,326.7 L461.2,323.7 L462.8,319.9 L464.4,315.1 L466.0,308.8 L470.9,285.6 L472.6,278.5 L473.6,275.4 L474.4,273.4 L475.3,272.2 L476.2,271.8 L477.0,272.2 L477.9,273.5 L478.8,275.9 L479.8,279.1 L481.4,286.1 L485.9,308.2 L488.5,318.1 L489.8,321.7 L491.1,324.7 L492.5,326.8 L494.0,328.5 L495.4,329.6 L497.1,330.3 L499.0,330.7 L501.5,331.0 L542.6,331.1" stroke="#00f" stroke-dasharray="1.2 0.8"/>
<path d="M312.5,330.8 L349.8,330.7 L353.7,330.3 L355.2,329.9 L356.4,329.2 L357.8,328.1 L359.0,326.5 L360.1,324.4 L361.3,321.7 L363.4,314.8 L367.8,296.8 L369.1,293.6 L369.6,292.8 L370.1,292.6 L370.8,292.9 L371.4,293.9 L372.6,298.3 L373.8,304.5 L376.7,323.8 L377.6,327.8 L378.5,330.3 L378.9,330.8 L379.4,330.7 L379.9,330.0 L380.5,328.3 L381.5,323.5 L384.5,306.2 L385.5,303.0 L385.9,302.2 L386.3,302.0 L386.7,302.3 L387.2,303.1 L388.1,306.6 L390.9,322.9 L391.9,327.5 L392.7,330.1 L393.2,330.7 L393.6,330.8 L394.1,330.3 L394.6,329.2 L395.6,325.0 L399.0,303.5 L400.2,296.9 L401.5,292.8 L402.0,291.9 L402.6,291.7 L403.1,291.9 L403.7,292.6 L404.9,295.7 L409.8,315.0 L411.2,319.4 L412.5,322.9 L413.9,325.7 L415.6,327.8 L417.4,329.2 L419.5,330.1 L422.9,330.6 L428.7,330.8 L542.6,330.8" stroke="#0f0" stroke-dasharray="1.2 0.8"/>
<path d="M312.5,316.7 L346.2,316.7 L349.9,316.2 L351.2,315.8 L352.5,315.1 L353.8,314.0 L355.0,312.5 L356.0,310.6 L357.1,308.2 L359.1,301.8 L363.3,285.0 L364.5,282.0 L365.0,281.3 L365.5,281.1 L366.1,281.4 L366.6,282.2 L367.7,285.9 L368.9,291.9 L371.8,310.8 L372.7,314.6 L373.6,316.5 L374.0,316.7 L374.4,316.4 L375.3,314.3 L376.2,310.7 L378.7,297.6 L379.5,294.8 L379.9,294.2 L380.3,294.0 L380.7,294.2 L381.1,294.8 L381.9,297.6 L384.4,310.8 L385.3,314.5 L386.1,316.5 L386.5,316.7 L386.9,316.5 L387.6,315.2 L388.2,312.7 L391.3,296.8 L392.1,294.5 L392.7,293.8 L393.1,294.0 L393.5,294.5 L394.4,297.2 L397.0,310.6 L397.8,314.3 L398.6,316.2 L399.0,316.7 L399.4,316.7 L399.8,316.1 L400.3,315.0 L401.3,311.1 L404.5,290.3 L405.7,284.2 L406.9,280.2 L407.5,279.3 L408.1,279.0 L408.6,279.3 L409.1,280.0 L410.3,282.8 L415.2,301.3 L416.5,305.5 L417.9,308.9 L419.3,311.5 L420.9,313.6 L422.8,315.0 L425.0,316.0 L428.5,316.5 L434.7,316.7 L542.6,316.7" stroke="#ff0" stroke-dasharray="1.2 0.8"/>
<path d="M312.5,316.2 L436.5,316.2 L443.0,316.0 L446.7,315.4 L449.0,314.4 L451.0,312.8 L452.8,310.5 L454.4,307.4 L455.8,303.6 L457.3,298.9 L462.7,277.1 L464.1,273.7 L464.7,272.8 L465.3,272.5 L466.0,272.9 L466.7,273.9 L468.0,278.2 L469.4,285.6 L473.3,309.5 L474.4,314.1 L475.0,315.5 L475.6,316.1 L476.2,316.0 L476.8,315.0 L478.2,310.3 L479.3,304.1 L482.1,286.3 L483.5,279.1 L484.8,275.4 L485.4,274.6 L485.9,274.3 L486.5,274.6 L487.2,275.5 L488.5,279.1 L493.2,298.7 L495.5,306.4 L496.7,309.2 L497.8,311.4 L499.1,313.1 L500.4,314.3 L501.7,315.1 L503.1,315.6 L507.1,316.1 L542.6,316.2" stroke="#0ff" stroke-dasharray="1.2 0.8"/>
</g>
<rect x="312.5" y="231.5" width="230.1" height="186.5" fill="none" stroke="#333" stroke-width="1.25"/>
<line x1="312.5" y1="418.0" x2="312.5" y2="422.0" stroke="#333" stroke-width="1"/>
<text transform="translate(312.5,430.7) scale(0.93,1)" text-anchor="middle" style="font-family:'Liberation Sans',Arial,sans-serif;font-size:8.5px;fill:#111;stroke:#111;stroke-width:0.25">-60</text>
<line x1="350.9" y1="418.0" x2="350.9" y2="422.0" stroke="#333" stroke-width="1"/>
<text transform="translate(350.9,430.7) scale(0.93,1)" text-anchor="middle" style="font-family:'Liberation Sans',Arial,sans-serif;font-size:8.5px;fill:#111;stroke:#111;stroke-width:0.25">-40</text>
<line x1="389.2" y1="418.0" x2="389.2" y2="422.0" stroke="#333" stroke-width="1"/>
<text transform="translate(389.2,430.7) scale(0.93,1)" text-anchor="middle" style="font-family:'Liberation Sans',Arial,sans-serif;font-size:8.5px;fill:#111;stroke:#111;stroke-width:0.25">-20</text>
<line x1="427.6" y1="418.0" x2="427.6" y2="422.0" stroke="#333" stroke-width="1"/>
<text transform="translate(427.6,430.7) scale(0.93,1)" text-anchor="middle" style="font-family:'Liberation Sans',Arial,sans-serif;font-size:8.5px;fill:#111;stroke:#111;stroke-width:0.25">0</text>
<line x1="465.9" y1="418.0" x2="465.9" y2="422.0" stroke="#333" stroke-width="1"/>
<text transform="translate(465.9,430.7) scale(0.93,1)" text-anchor="middle" style="font-family:'Liberation Sans',Arial,sans-serif;font-size:8.5px;fill:#111;stroke:#111;stroke-width:0.25">20</text>
<line x1="504.2" y1="418.0" x2="504.2" y2="422.0" stroke="#333" stroke-width="1"/>
<text transform="translate(504.2,430.7) scale(0.93,1)" text-anchor="middle" style="font-family:'Liberation Sans',Arial,sans-serif;font-size:8.5px;fill:#111;stroke:#111;stroke-width:0.25">40</text>
<line x1="542.6" y1="418.0" x2="542.6" y2="422.0" stroke="#333" stroke-width="1"/>
<text transform="translate(542.6,430.7) scale(0.93,1)" text-anchor="middle" style="font-family:'Liberation Sans',Arial,sans-serif;font-size:8.5px;fill:#111;stroke:#111;stroke-width:0.25">60</text>
<line x1="331.7" y1="418.0" x2="331.7" y2="420.2" stroke="#333" stroke-width="1"/>
<line x1="370.0" y1="418.0" x2="370.0" y2="420.2" stroke="#333" stroke-width="1"/>
<line x1="408.4" y1="418.0" x2="408.4" y2="420.2" stroke="#333" stroke-width="1"/>
<line x1="446.7" y1="418.0" x2="446.7" y2="420.2" stroke="#333" stroke-width="1"/>
<line x1="485.1" y1="418.0" x2="485.1" y2="420.2" stroke="#333" stroke-width="1"/>
<line x1="523.4" y1="418.0" x2="523.4" y2="420.2" stroke="#333" stroke-width="1"/>
<line x1="308.5" y1="380.7" x2="312.5" y2="380.7" stroke="#333" stroke-width="1"/>
<text transform="translate(306.7,383.7) scale(0.93,1)" text-anchor="end" style="font-family:'Liberation Sans',Arial,sans-serif;font-size:8.5px;fill:#111;stroke:#111;stroke-width:0.25">200</text>
<line x1="308.5" y1="306.1" x2="312.5" y2="306.1" stroke="#333" stroke-width="1"/>
<text transform="translate(306.7,309.1) scale(0.93,1)" text-anchor="end" style="font-family:'Liberation Sans',Arial,sans-serif;font-size:8.5px;fill:#111;stroke:#111;stroke-width:0.25">400</text>
<line x1="308.5" y1="231.5" x2="312.5" y2="231.5" stroke="#333" stroke-width="1"/>
<text transform="translate(306.7,234.5) scale(0.93,1)" text-anchor="end" style="font-family:'Liberation Sans',Arial,sans-serif;font-size:8.5px;fill:#111;stroke:#111;stroke-width:0.25">600</text>
<line x1="310.3" y1="418.0" x2="312.5" y2="418.0" stroke="#333" stroke-width="1"/>
<line x1="310.3" y1="380.7" x2="312.5" y2="380.7" stroke="#333" stroke-width="1"/>
<line x1="310.3" y1="343.4" x2="312.5" y2="343.4" stroke="#333" stroke-width="1"/>
<line x1="310.3" y1="306.1" x2="312.5" y2="306.1" stroke="#333" stroke-width="1"/>
<line x1="310.3" y1="268.8" x2="312.5" y2="268.8" stroke="#333" stroke-width="1"/>
<text transform="translate(287.2,316.0) rotate(-90)" text-anchor="middle" style="font-family:'Liberation Serif','Times New Roman',serif;font-size:11.5px;fill:#111;stroke:#111;stroke-width:0.35;white-space:pre">V (z) (meV)</text>
<text x="427.6" y="446.0" text-anchor="middle" style="font-family:'Liberation Serif','Times New Roman',serif;font-size:11px;fill:#111;stroke:#111;stroke-width:0.35">z (nm)</text>
<text x="49.5" y="24.3" text-anchor="start" style="font-family:'Liberation Serif','Times New Roman',serif;font-size:9.2px;font-weight:bold;fill:#111;stroke:#111;stroke-width:0.30;white-space:pre">(a)</text>
<line x1="92.3" y1="15.6" x2="114.1" y2="15.6" stroke="#000" stroke-width="1.3"/>
<text x="118.7" y="19.5" text-anchor="start" style="font-family:'Liberation Serif','Times New Roman',serif;font-size:9.8px;font-weight:normal;fill:#111;stroke:#111;stroke-width:0.30;white-space:pre">A<tspan dy="2.6" font-size="7.6px">1</tspan><tspan dy="-2.6"> </tspan>= 0.2</text>
<line x1="161.1" y1="15.6" x2="182.9" y2="15.6" stroke="#f00" stroke-width="1.3"/>
<text x="187.7" y="19.5" text-anchor="start" style="font-family:'Liberation Serif','Times New Roman',serif;font-size:9.8px;font-weight:normal;fill:#111;stroke:#111;stroke-width:0.30;white-space:pre">A<tspan dy="2.6" font-size="7.6px">1</tspan><tspan dy="-2.6"> </tspan>= 0.5</text>
<text x="88.8" y="43.6" text-anchor="start" style="font-family:'Liberation Serif','Times New Roman',serif;font-size:9.8px;font-weight:normal;fill:#111;stroke:#111;stroke-width:0.30;white-space:pre">z<tspan dy="2.6" font-size="8.6px">o</tspan><tspan dy="-2.6"> </tspan>= 0</text>
<text x="88.8" y="58.6" text-anchor="start" style="font-family:'Liberation Serif','Times New Roman',serif;font-size:9.8px;font-weight:normal;fill:#111;stroke:#111;stroke-width:0.30;white-space:pre">k = 20 nm</text>
<line x1="94" y1="175.5" x2="115.5" y2="175.5" stroke="#000" stroke-width="1.3"/>
<text x="117.7" y="178.8" text-anchor="start" style="font-family:'Liberation Serif','Times New Roman',serif;font-size:9.8px;font-weight:normal;fill:#111;stroke:#111;stroke-width:0.30;white-space:pre">A<tspan dy="2.6" font-size="7.6px">2</tspan><tspan dy="-2.6"> </tspan>= 2.0</text>
<line x1="160.1" y1="175.5" x2="181" y2="175.5" stroke="#000" stroke-width="1.3" stroke-dasharray="3.2 2.4"/>
<text x="184.8" y="178.8" text-anchor="start" style="font-family:'Liberation Serif','Times New Roman',serif;font-size:9.8px;font-weight:normal;fill:#111;stroke:#111;stroke-width:0.30;white-space:pre">A<tspan dy="2.6" font-size="7.6px">2</tspan><tspan dy="-2.6"> </tspan>= 4.0</text>
<rect x="340.6" y="17.2" width="180.5" height="33.4" fill="#000"/>
<rect x="337.6" y="14" width="180.4" height="33.4" fill="#fff" stroke="#bbb" stroke-width="0.8"/>
<text x="322.2" y="20.7" text-anchor="start" style="font-family:'Liberation Serif','Times New Roman',serif;font-size:9.2px;font-weight:bold;fill:#111;stroke:#111;stroke-width:0.30;white-space:pre">(b)</text>
<line x1="338.4" y1="23.0" x2="360.0" y2="23.0" stroke="#666" stroke-width="1.3"/>
<text x="361.9" y="26.6" text-anchor="start" style="font-family:'Liberation Serif','Times New Roman',serif;font-size:9.6px;font-weight:normal;fill:#111;stroke:#111;stroke-width:0.30;white-space:pre"><tspan fill="#555" stroke="#555">|</tspan> ψ<tspan dy="2" font-size="6.5px">1</tspan><tspan dy="-2">(z)</tspan> <tspan fill="#555" stroke="#555">|</tspan><tspan dy="-3.5" font-size="6.5px">2</tspan></text>
<line x1="399.6" y1="23.0" x2="421.2" y2="23.0" stroke="#f55" stroke-width="1.3"/>
<text x="423.1" y="26.6" text-anchor="start" style="font-family:'Liberation Serif','Times New Roman',serif;font-size:9.6px;font-weight:normal;fill:#111;stroke:#111;stroke-width:0.30;white-space:pre"><tspan fill="#555" stroke="#555">|</tspan> ψ<tspan dy="2" font-size="6.5px">2</tspan><tspan dy="-2">(z)</tspan> <tspan fill="#555" stroke="#555">|</tspan><tspan dy="-3.5" font-size="6.5px">2</tspan></text>
<line x1="460.4" y1="23.0" x2="482.0" y2="23.0" stroke="#55f" stroke-width="1.3"/>
<text x="483.9" y="26.6" text-anchor="start" style="font-family:'Liberation Serif','Times New Roman',serif;font-size:9.6px;font-weight:normal;fill:#111;stroke:#111;stroke-width:0.30;white-space:pre"><tspan fill="#555" stroke="#555">|</tspan> ψ<tspan dy="2" font-size="6.5px">3</tspan><tspan dy="-2">(z)</tspan> <tspan fill="#555" stroke="#555">|</tspan><tspan dy="-3.5" font-size="6.5px">2</tspan></text>
<line x1="338.4" y1="39.0" x2="360.0" y2="39.0" stroke="#4e4" stroke-width="1.3"/>
<text x="361.9" y="42.6" text-anchor="start" style="font-family:'Liberation Serif','Times New Roman',serif;font-size:9.6px;font-weight:normal;fill:#111;stroke:#111;stroke-width:0.30;white-space:pre"><tspan fill="#555" stroke="#555">|</tspan> ψ<tspan dy="2" font-size="6.5px">4</tspan><tspan dy="-2">(z)</tspan> <tspan fill="#555" stroke="#555">|</tspan><tspan dy="-3.5" font-size="6.5px">2</tspan></text>
<line x1="399.6" y1="39.0" x2="421.2" y2="39.0" stroke="#5ff" stroke-width="1.3"/>
<text x="423.1" y="42.6" text-anchor="start" style="font-family:'Liberation Serif','Times New Roman',serif;font-size:9.6px;font-weight:normal;fill:#111;stroke:#111;stroke-width:0.30;white-space:pre"><tspan fill="#555" stroke="#555">|</tspan> ψ<tspan dy="2" font-size="6.5px">5</tspan><tspan dy="-2">(z)</tspan> <tspan fill="#555" stroke="#555">|</tspan><tspan dy="-3.5" font-size="6.5px">2</tspan></text>
<line x1="460.4" y1="39.0" x2="482.0" y2="39.0" stroke="#ff5" stroke-width="1.3"/>
<text x="483.9" y="42.6" text-anchor="start" style="font-family:'Liberation Serif','Times New Roman',serif;font-size:9.6px;font-weight:normal;fill:#111;stroke:#111;stroke-width:0.30;white-space:pre"><tspan fill="#555" stroke="#555">|</tspan> ψ<tspan dy="2" font-size="6.5px">6</tspan><tspan dy="-2">(z)</tspan> <tspan fill="#555" stroke="#555">|</tspan><tspan dy="-3.5" font-size="6.5px">2</tspan></text>
<text x="359.1" y="171.1" text-anchor="start" style="font-family:'Liberation Serif','Times New Roman',serif;font-size:9.6px;font-weight:normal;fill:#111;stroke:#111;stroke-width:0.30;white-space:pre">A<tspan dy="2.6" font-size="7.6px">1</tspan><tspan dy="-2.6"> </tspan>= 0.5; A<tspan dy="2.6" font-size="7.6px">2</tspan><tspan dy="-2.6"> </tspan>= 2.0; z<tspan dy="2.6" font-size="7.6px">o</tspan><tspan dy="-2.6"> </tspan>= 0.15;  k = 20 nm</text>
<rect x="70" y="267" width="62.2" height="31.3" fill="#000"/>
<rect x="67.3" y="264.1" width="62.2" height="31.3" fill="#fff" stroke="#bbb" stroke-width="0.8"/>
<line x1="68.2" y1="270.5" x2="89.6" y2="270.5" stroke="#000" stroke-width="1.3"/>
<text x="95.1" y="274.1" text-anchor="start" style="font-family:'Liberation Serif','Times New Roman',serif;font-size:9.8px;font-weight:normal;fill:#111;stroke:#111;stroke-width:0.30;white-space:pre">A<tspan dy="2.6" font-size="7.6px">2</tspan><tspan dy="-2.6"> </tspan>= 2.0</text>
<line x1="68.2" y1="286.3" x2="89.6" y2="286.3" stroke="#000" stroke-width="1.3" stroke-dasharray="4.5 3.8"/>
<text x="95.1" y="289.5" text-anchor="start" style="font-family:'Liberation Serif','Times New Roman',serif;font-size:9.8px;font-weight:normal;fill:#111;stroke:#111;stroke-width:0.30;white-space:pre">A<tspan dy="2.6" font-size="7.6px">2</tspan><tspan dy="-2.6"> </tspan>= 4.0</text>
<rect x="187.4" y="240.2" width="61.5" height="32.8" fill="#000"/>
<rect x="184.6" y="237.4" width="61.8" height="33.1" fill="#fff" stroke="#bbb" stroke-width="0.8"/>
<line x1="185.5" y1="245" x2="207.5" y2="245" stroke="#000" stroke-width="1.3"/>
<text x="209.8" y="247.8" text-anchor="start" style="font-family:'Liberation Serif','Times New Roman',serif;font-size:9.8px;font-weight:normal;fill:#111;stroke:#111;stroke-width:0.30;white-space:pre">z<tspan dy="2.6" font-size="8.6px">o</tspan><tspan dy="-2.6"> </tspan>= 0.15</text>
<line x1="185.5" y1="261.4" x2="207.5" y2="261.4" stroke="#f00" stroke-width="1.3"/>
<text x="209.8" y="264.0" text-anchor="start" style="font-family:'Liberation Serif','Times New Roman',serif;font-size:9.8px;font-weight:normal;fill:#111;stroke:#111;stroke-width:0.30;white-space:pre">z<tspan dy="2.6" font-size="8.6px">o</tspan><tspan dy="-2.6"> </tspan>= 0.30</text>
<text x="55.9" y="248.2" text-anchor="start" style="font-family:'Liberation Serif','Times New Roman',serif;font-size:9.2px;font-weight:bold;fill:#111;stroke:#111;stroke-width:0.30;white-space:pre">(c)</text>
<text x="126.9" y="406.4" text-anchor="start" style="font-family:'Liberation Serif','Times New Roman',serif;font-size:9.5px;font-weight:normal;fill:#111;stroke:#111;stroke-width:0.30;white-space:pre">A<tspan dy="2.6" font-size="7.6px">1</tspan><tspan dy="-2.6"> </tspan>= 0.5; k = 20 nm</text>
<text x="320.8" y="244.3" text-anchor="start" style="font-family:'Liberation Serif','Times New Roman',serif;font-size:9.2px;font-weight:bold;fill:#111;stroke:#111;stroke-width:0.30;white-space:pre">(d)</text>
<text x="375.9" y="246.3" text-anchor="start" style="font-family:'Liberation Serif','Times New Roman',serif;font-size:9.7px;font-weight:normal;fill:#111;stroke:#111;stroke-width:0.30;white-space:pre">A<tspan dy="2.6" font-size="7.6px">2</tspan><tspan dy="-2.6"> </tspan>= 2.0; k = 20 nm; z<tspan dy="2.6" font-size="7.6px">o</tspan><tspan dy="-2.6"> </tspan>= 0.15</text>
<text x="365.1" y="273.6" text-anchor="start" style="font-family:'Liberation Serif','Times New Roman',serif;font-size:9.8px;font-weight:normal;fill:#111;stroke:#111;stroke-width:0.30;white-space:pre">A<tspan dy="2.6" font-size="7.6px">1</tspan><tspan dy="-2.6"> </tspan>= 0.5</text>
<text x="313.1" y="299.7" text-anchor="start" style="font-family:'Liberation Serif','Times New Roman',serif;font-size:9.8px;font-weight:normal;fill:#111;stroke:#111;stroke-width:0.30;white-space:pre">A<tspan dy="2.6" font-size="7.6px">1</tspan><tspan dy="-2.6"> </tspan>= 0.2</text>
<line x1="349.8" y1="276.9" x2="360.7" y2="271.5" stroke="#000" stroke-width="1"/>
<polygon points="360.7,271.5 357.1,275.5 355.3,271.9" fill="#000"/>
<line x1="317.3" y1="314.8" x2="332.4" y2="303.2" stroke="#000" stroke-width="1"/>
<polygon points="332.4,303.2 329.7,307.8 327.2,304.7" fill="#000"/>
</svg></body></html>
